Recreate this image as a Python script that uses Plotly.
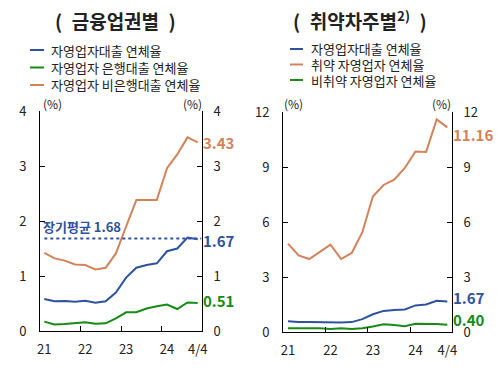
import plotly.graph_objects as go

# page body has an 8px default margin; keep the figure inside the window
OFF = 8
WIN_W, WIN_H = 503, 370
W, H = WIN_W - 2 * OFF, WIN_H - 2 * OFF
FONT = "Noto Sans CJK KR"
BLUE = "#2F52A0"
GREEN = "#178A17"
ORANGE = "#D4825A"

# ---- data ----
quarters = list(range(16))  # 21Q1 .. 24Q4
x_tick_pos = [0, 4, 8, 12, 15]
x_tick_text = ["21", "22", "23", "24", "4/4"]
year_bounds = [3.5, 7.5, 11.5]

sole_total = [0.58, 0.54, 0.545, 0.53, 0.55, 0.515, 0.54, 0.70, 0.97, 1.15, 1.20, 1.23, 1.45, 1.50, 1.70, 1.67]
sole_bank = [0.17, 0.12, 0.125, 0.145, 0.16, 0.13, 0.14, 0.23, 0.34, 0.34, 0.41, 0.45, 0.48, 0.40, 0.52, 0.51]
sole_nonbank = [1.42, 1.32, 1.28, 1.21, 1.20, 1.12, 1.15, 1.41, 1.90, 2.38, 2.38, 2.38, 2.96, 3.21, 3.52, 3.43]
long_avg = 1.68

vuln = [4.82, 4.18, 3.98, 4.36, 4.76, 3.98, 4.31, 5.45, 7.40, 8.02, 8.31, 8.95, 9.85, 9.82, 11.6, 11.16]
nonvuln = [0.20, 0.20, 0.22, 0.20, 0.17, 0.20, 0.17, 0.20, 0.30, 0.42, 0.38, 0.32, 0.45, 0.45, 0.43, 0.40]

left_ticks = [0, 1, 2, 3, 4]
right_ticks = [0, 3, 6, 9, 12]

legend_left = [("자영업자대출 연체율", BLUE), ("자영업자 은행대출 연체율", GREEN), ("자영업자 비은행대출 연체율", ORANGE)]
legend_right = [("자영업자대출 연체율", BLUE), ("취약 자영업자 연체율", ORANGE), ("비취약 자영업자 연체율", GREEN)]


def px(x):
    return (x - OFF) / W


def py(y):
    return 1 - (y - OFF) / H


fig = go.Figure()


def line(x, y, color, xa, ya, width=2.0, opacity=1.0):
    fig.add_trace(go.Scatter(x=x, y=y, mode="lines", line=dict(color=color, width=width),
                             xaxis=xa, yaxis=ya, showlegend=False, hoverinfo="skip", opacity=opacity))


# left panel
line(quarters, sole_nonbank, ORANGE, "x", "y")
line(quarters, sole_total, BLUE, "x", "y")
line(quarters, sole_bank, GREEN, "x", "y")
fig.add_trace(go.Scatter(x=[0, 15.35], y=[long_avg, long_avg], mode="lines",
                         line=dict(color=BLUE, width=2, dash="dot"), xaxis="x", yaxis="y",
                         showlegend=False, hoverinfo="skip"))
line(quarters, sole_total, BLUE, "x", "y3", opacity=0)

# right panel
line(quarters, vuln, ORANGE, "x2", "y2")
line(quarters, nonvuln, GREEN, "x2", "y2")
line(quarters, sole_total, BLUE, "x2", "y2")
line(quarters, sole_total, BLUE, "x2", "y4", opacity=0)

axfont = dict(family=FONT, size=13, color="#222")

xcommon = dict(tickmode="array", tickvals=x_tick_pos, ticktext=x_tick_text, ticks="",
               showline=True, linecolor="black", linewidth=1, showgrid=False, zeroline=False,
               tickfont=axfont, ticklabelstandoff=6, automargin=False, fixedrange=True,
               minor=dict(tickmode="array", tickvals=year_bounds, ticks="inside", ticklen=5,
                          tickcolor="black", tickwidth=1, showgrid=False))

ycommon = dict(tickmode="array", ticks="inside", ticklen=5, tickcolor="black",
               showline=True, linecolor="black", linewidth=1, showgrid=False, zeroline=False,
               tickfont=axfont, automargin=False, fixedrange=True)

fig.update_layout(
    width=W, height=H, margin=dict(l=0, r=0, t=0, b=0, autoexpand=False),
    paper_bgcolor="white", plot_bgcolor="white",
    font=dict(family=FONT, color="#222"),
    xaxis=dict(domain=[px(40), px(202)], range=[-0.42, 15.42], anchor="y", **xcommon),
    xaxis2=dict(domain=[px(283), px(452)], range=[-0.47, 15.44], anchor="y2", **xcommon),
    yaxis=dict(domain=[py(331), py(111)], range=[0, 4], tickvals=left_ticks, anchor="x",
               ticklabelstandoff=10, **ycommon),
    yaxis3=dict(range=[0, 4], tickvals=left_ticks, overlaying="y", side="right", anchor="x",
                ticklabelstandoff=8, **ycommon),
    yaxis2=dict(domain=[py(332), py(112)], range=[0, 12], tickvals=right_ticks, anchor="x2",
                ticklabelstandoff=10, **ycommon),
    yaxis4=dict(range=[0, 12], tickvals=right_ticks, overlaying="y2", side="right", anchor="x2",
                ticklabelstandoff=8, **ycommon),
)

ann = []


def paper_text(x, y, text, size=13, xanchor="center", bold=False, color="#222"):
    ann.append(dict(x=px(x), y=py(y), text=f"<b>{text}</b>" if bold else text, showarrow=False,
                    xanchor=xanchor, yanchor="middle", xref="paper", yref="paper",
                    font=dict(family=FONT, size=size, color=color)))


# titles
SP = "\u2002"
paper_text(115, 20, f"({SP}금융업권별{SP})", size=19, bold=True)
paper_text(360, 20, f"({SP}취약차주별<sup>2)</sup>{SP})", size=19, bold=True)

shapes = []
# legends
for (txt, col), yy in zip(legend_left, [50, 67.5, 85]):
    shapes.append(dict(type="line", xref="paper", yref="paper", x0=px(30), x1=px(44), y0=py(yy), y1=py(yy),
                       line=dict(color=col, width=2)))
    paper_text(49, yy, txt, xanchor="left")
for (txt, col), yy in zip(legend_right, [49, 64.5, 80]):
    shapes.append(dict(type="line", xref="paper", yref="paper", x0=px(290), x1=px(303), y0=py(yy), y1=py(yy),
                       line=dict(color=col, width=2)))
    paper_text(309, yy, txt, xanchor="left")

# (%) unit labels
for xx in [52, 192, 293, 441]:
    paper_text(xx, 103, "(%)", size=12)

# long-average label
ann.append(dict(x=0, y=long_avg, xref="x", yref="y", text="<b>장기평균 " + f"{long_avg:.2f}" + "</b>",
                xanchor="left", yanchor="bottom", showarrow=False, xshift=-3, yshift=1,
                font=dict(family=FONT, size=13, color=BLUE)))


# end labels
def end_label(xr, yr, val, col, yshift):
    ann.append(dict(x=1, xref=xr + " domain", y=val, yref=yr, text=f"<b>{val:.2f}</b>",
                    xanchor="left", yanchor="middle", showarrow=False, xshift=-1, yshift=yshift,
                    font=dict(family=FONT, size=15, color=col)))


end_label("x", "y", sole_nonbank[-1], ORANGE, 0)
end_label("x", "y", sole_total[-1], BLUE, -1)
end_label("x", "y", sole_bank[-1], GREEN, 2)
end_label("x2", "y2", vuln[-1], ORANGE, -7)
end_label("x2", "y2", sole_total[-1], BLUE, 4)
end_label("x2", "y2", nonvuln[-1], GREEN, 5)

fig.update_layout(annotations=ann, shapes=shapes)
fig.write_html("out.html")
